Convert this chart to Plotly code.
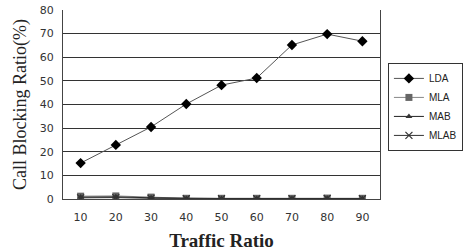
import plotly.graph_objects as go

traffic = ["10", "20", "30", "40", "50", "60", "70", "80", "90"]
lda = [15.2, 22.9, 30.5, 40.2, 48.2, 51.2, 65.2, 69.8, 66.8]
mla = [1.2, 1.3, 0.8, 0.3, 0.3, 0.3, 0.3, 0.4, 0.3]
mab = [0.8, 0.9, 0.5, 0.2, 0.2, 0.2, 0.2, 0.3, 0.2]
mlab = [0.5, 0.6, 0.3, 0.1, 0.1, 0.1, 0.1, 0.2, 0.1]

fig = go.Figure()
fig.add_trace(go.Scatter(x=traffic, y=lda, name="LDA", mode="lines+markers",
                         line=dict(color="#555555", width=1),
                         marker=dict(symbol="diamond", size=8, color="black")))
fig.add_trace(go.Scatter(x=traffic, y=mla, name="MLA", mode="lines+markers",
                         line=dict(color="#888888", width=1),
                         marker=dict(symbol="square", size=7, color="#666666")))
fig.add_trace(go.Scatter(x=traffic, y=mab, name="MAB", mode="lines+markers",
                         line=dict(color="#222222", width=1),
                         marker=dict(symbol="triangle-up", size=6, color="#333333")))
fig.add_trace(go.Scatter(x=traffic, y=mlab, name="MLAB", mode="lines+markers",
                         line=dict(color="#333333", width=1),
                         marker=dict(symbol="x-thin", size=7, line=dict(color="#333333", width=1.2))))

fig.update_layout(
    width=474, height=252,
    margin=dict(l=63, r=94, t=10, b=53),
    paper_bgcolor="white", plot_bgcolor="white",
    showlegend=True,
    legend=dict(x=1.025, y=0.72, xanchor="left", yanchor="top",
                bordercolor="#333333", borderwidth=1,
                font=dict(family="Liberation Sans, Arial", size=10, color="#222222"),
                tracegroupgap=0, itemsizing="trace", itemwidth=30),
    xaxis=dict(type="category", range=[-0.5, 8.5], automargin=False,
               showline=True, linecolor="#444444", linewidth=1, mirror=False,
               showgrid=False, ticks="", tickfont=dict(family="DejaVu Sans", size=11, color="#333333"),
               ticklabelstandoff=8,
               title=dict(text="<b>Traffic Ratio</b>", font=dict(family="Liberation Serif, Times New Roman", size=19, color="#222222"),
                          standoff=10)),
    yaxis=dict(range=[0, 80], dtick=10, automargin=False,
               showline=True, linecolor="#444444", linewidth=1, mirror=True,
               showgrid=True, gridcolor="#333333", gridwidth=1, zeroline=False,
               ticks="", tickfont=dict(family="DejaVu Sans", size=11, color="#333333"),
               ticklabelstandoff=6,
               title=dict(text="Call Blocking Ratio(%)", font=dict(family="Liberation Serif, Times New Roman", size=18, color="#222222"),
                          standoff=8)),
)

fig.write_html("out.html")
